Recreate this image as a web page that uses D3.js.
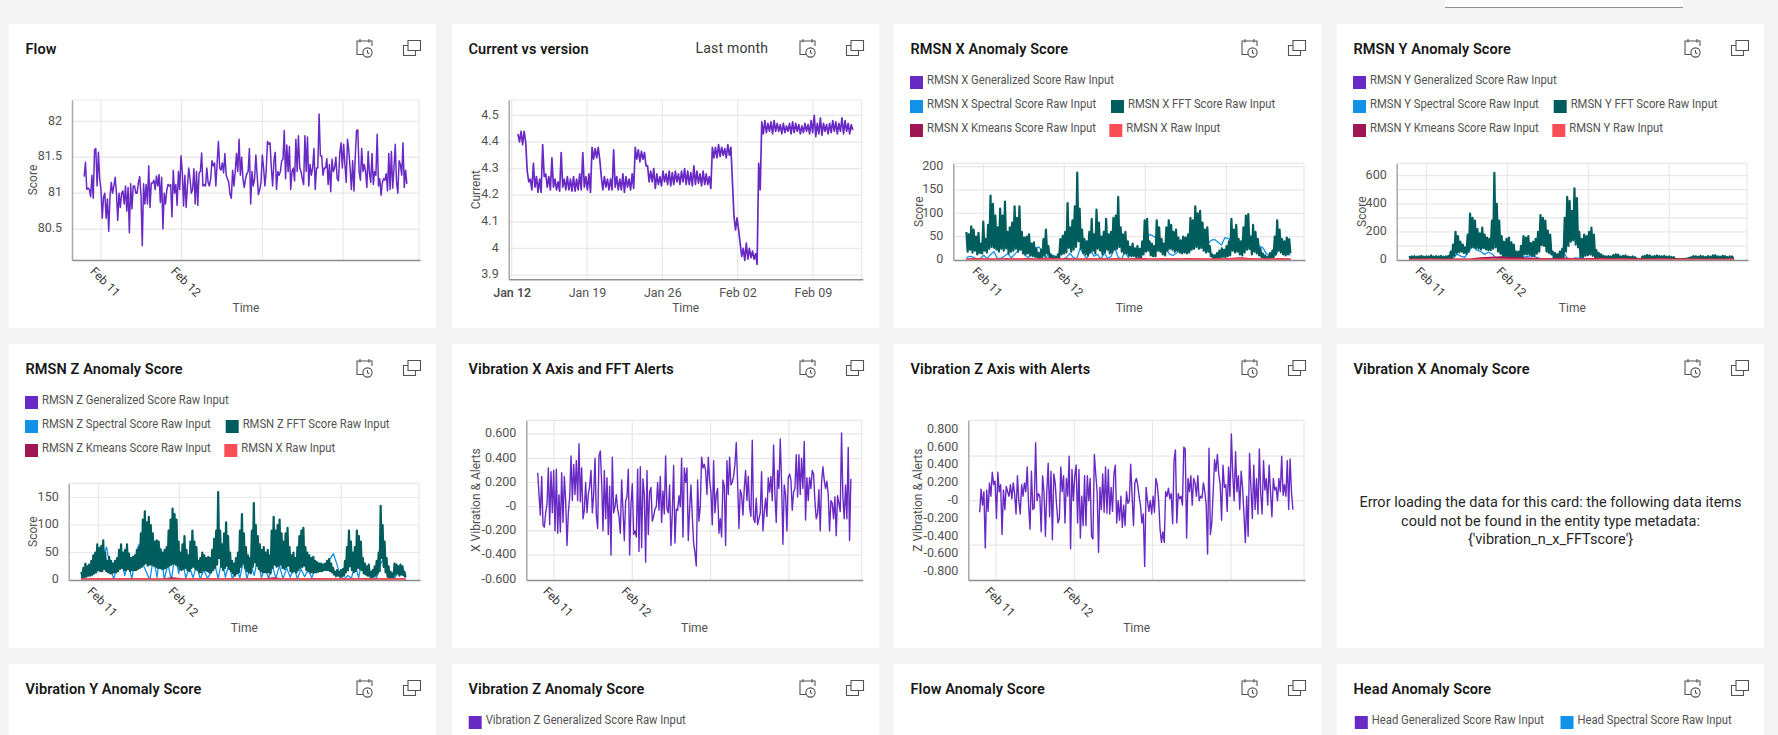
<!DOCTYPE html>
<html><head><meta charset="utf-8">
<script src="https://cdn.jsdelivr.net/npm/d3@7/dist/d3.min.js"></script>
<style>
html,body{margin:0;padding:0;background:#f4f4f4;overflow:hidden}
svg{display:block}
text{font-family:Roboto,"Open Sans",sans-serif}
.title{font-size:14.5px;font-weight:600;fill:#161616;letter-spacing:.1px}
.tick text{font-size:12.5px;fill:#525252}
.lg{font-size:12.5px;fill:#525252}
.axt{font-size:12px;fill:#525252}
.err{font-size:14.5px;fill:#262626;text-anchor:middle}
</style></head><body><div id="root"></div>
<script>
const flowValues=[81.23,81.43,81.05,81.07,81.05,80.95,81.25,80.93,81.6,81.62,81.1,81.57,81.2,81.05,80.65,80.95,81.0,80.65,80.92,80.47,80.95,81.15,81.0,81.1,81.22,81.0,80.62,81.0,80.8,81.0,81.03,80.85,81.1,80.75,81.08,80.45,81.13,80.78,81.1,81.1,81.0,81.0,81.15,81.23,80.97,80.27,81.13,80.85,81.12,80.85,81.38,80.8,81.14,81.14,81.18,81.05,81.24,81.1,81.26,80.87,81.22,80.5,81.0,80.85,81.04,81.12,81.1,81.12,80.67,81.32,81.0,81.12,80.83,81.3,81.05,81.52,81.3,80.82,81.25,80.8,81.1,81.35,81.2,81.0,81.05,81.34,80.85,81.3,80.83,81.28,81.3,81.56,81.1,81.12,81.1,81.35,81.15,81.1,81.2,81.45,81.38,81.42,81.1,81.42,81.72,81.35,81.32,81.42,81.28,81.55,81.25,81.2,81.15,80.98,80.93,81.32,81.1,81.3,81.55,81.3,81.75,81.25,81.5,81.2,81.08,81.2,81.27,81.3,81.62,80.85,81.3,81.1,81.2,81.53,81.25,80.98,81.05,81.15,81.53,81.35,81.1,81.3,81.72,81.68,81.7,81.35,81.1,81.45,81.57,81.05,81.3,81.25,81.3,81.45,81.47,81.87,81.2,81.67,81.3,81.65,81.05,81.3,81.35,81.17,81.75,81.3,81.8,81.35,81.3,81.2,81.12,81.8,81.3,81.78,81.1,81.4,81.25,81.35,81.62,81.05,81.35,81.35,82.1,81.52,81.52,81.25,81.35,81.35,81.48,81.12,81.4,81.02,81.47,81.3,81.35,81.5,81.2,81.17,81.55,81.7,81.35,81.68,81.4,81.15,81.75,81.6,81.35,81.05,81.45,81.03,81.5,81.87,81.88,81.3,81.18,81.62,81.3,81.4,81.3,81.08,81.58,81.28,81.15,81.55,81.12,81.3,81.25,81.82,81.1,81.2,80.97,81.15,81.2,81.18,81.27,81.03,81.55,81.05,81.58,81.07,81.35,81.68,81.15,81.0,81.45,81.4,81.25,81.7,81.08,81.32,81.13];
const currentHigh=[4.43,4.44,4.44,4.29,4.26,4.32,4.27,4.26,4.39,4.28,4.27,4.34,4.26,4.25,4.36,4.26,4.27,4.26,4.27,4.26,4.28,4.36,4.27,4.28,4.38,4.375,4.38,4.27,4.27,4.26,4.26,4.37,4.27,4.26,4.28,4.27,4.26,4.28,4.38,4.37,4.365,4.36,4.31,4.29,4.30,4.28,4.27,4.29,4.28,4.29,4.285,4.29,4.28,4.29,4.30,4.29,4.285,4.31,4.29,4.28,4.29,4.28,4.27,4.38,4.38,4.39,4.38,4.375,4.39,4.38,4.12,4.115,4.02,4.0,4.02,4.0,3.99,3.98,4.32,4.475,4.48,4.47,4.475,4.48,4.47,4.465,4.47,4.46,4.47,4.475,4.47,4.465,4.46,4.47,4.465,4.48,4.50,4.47,4.49,4.47,4.465,4.47,4.48,4.475,4.47,4.49,4.48,4.47,4.465];
const currentLow=[4.40,4.39,4.40,4.25,4.22,4.23,4.21,4.21,4.27,4.23,4.22,4.23,4.22,4.215,4.23,4.22,4.22,4.215,4.215,4.22,4.22,4.23,4.22,4.21,4.335,4.34,4.335,4.22,4.23,4.22,4.22,4.23,4.22,4.22,4.21,4.23,4.22,4.225,4.335,4.325,4.335,4.31,4.25,4.25,4.225,4.24,4.235,4.25,4.24,4.235,4.24,4.25,4.24,4.25,4.24,4.24,4.235,4.24,4.245,4.235,4.24,4.24,4.225,4.34,4.34,4.345,4.35,4.34,4.35,4.25,4.07,4.07,3.97,3.955,3.96,3.965,3.96,3.94,4.22,4.43,4.435,4.44,4.43,4.44,4.44,4.43,4.435,4.44,4.43,4.435,4.44,4.43,4.435,4.44,4.43,4.435,4.42,4.43,4.425,4.44,4.43,4.435,4.44,4.43,4.44,4.43,4.44,4.43,4.445];
const rmsnXFftHigh=[60,55,72,65,50,58,35,82,45,75,138,120,95,70,110,95,125,60,70,80,115,90,115,60,48,50,55,35,38,25,15,22,45,65,30,12,8,6,12,45,52,60,122,70,85,115,187,110,65,45,40,60,88,55,108,80,50,60,88,55,60,90,95,135,70,55,60,40,28,35,25,30,24,40,85,88,40,35,30,85,70,45,35,70,85,75,60,65,48,42,50,48,55,90,85,115,100,105,80,65,70,30,12,10,15,20,25,22,30,40,88,65,75,45,40,70,95,98,50,75,60,45,25,14,10,6,15,20,50,85,65,45,40,48,45];
const rmsnXFftLow=[18,22,16,20,12,15,14,20,16,24,28,26,22,18,24,20,25,14,18,20,24,18,22,14,12,14,10,8,7,5,2,6,10,14,6,2,1,0,3,12,14,16,26,18,22,28,40,24,15,12,10,16,20,14,24,20,12,16,22,14,16,22,24,28,18,14,14,10,8,9,7,8,6,12,18,20,10,8,8,20,18,12,10,20,24,22,18,20,16,14,16,14,16,22,24,28,24,26,20,16,18,8,2,1,3,5,7,6,8,10,20,16,18,12,10,16,22,24,12,18,14,10,6,2,2,0,4,6,12,20,16,12,10,12,14];
const rmsnXSpectral=[5,8,6,2,3,10,3,12,18,3,4,8,14,5,12,20,28,10,5,15,25,28,18,5,14,10,8,3,2,5,14,6,2,25,12,3,22,8,12,2,15,3,8,28,6,2,18,5,25,8,3,15,30,55,52,48,38,30,22,12,10,15,28,32,28,22,30,38,30,28,35,42,44,38,32,48,46,40,30,26,35,40,32,24,22,30,26,14,8,5,14,30,24,16,10];
const rmsnXKmeans=[1,2,1,1,2,1,2,1,3,1,2,1,1,2,1,2,1,3,1,1,2,1,2,1,1,2,2,4,2,1,1,2,1];
const rmsnXRaw=[1.5,1,1.5,1.5,1,2,1.5,1,1.5,1.5,1,1.5,2,1.5,1,1.5,1.5,1,1.5,1.5,2,1,1.5,1.5,1,1.5,1.5,2,1.5,1,1.5,1.5,1.5];
const rmsnYFftHigh=[28,25,27,24,26,30,23,26,25,32,24,27,25,29,24,26,28,60,110,200,170,130,110,90,180,330,300,280,220,190,230,180,160,150,280,620,400,280,170,130,150,160,125,110,60,60,100,170,160,170,120,130,150,200,320,300,280,210,180,60,50,40,60,80,300,450,420,350,510,440,200,150,180,170,200,230,180,70,50,40,30,25,28,25,35,40,38,25,30,32,25,22,25,20,8,5,25,30,35,32,25,28,32,28,26,30,24,26,22,20,6,5,6,8,10,15,20,28,26,24,30,26,22,28,24,32,34,26,24,30,28,22,26,25];
const rmsnYFftLow=[6,8,5,7,6,5,8,6,7,5,6,4,7,5,6,8,6,15,30,50,55,60,50,45,60,90,90,85,80,75,85,75,70,70,80,90,60,45,25,20,15,15,12,12,10,10,20,40,40,40,30,30,45,60,105,100,60,50,40,15,12,10,15,20,60,100,130,140,110,90,12,20,30,35,40,30,20,15,10,8,6,5,5,5,7,8,8,5,6,5,4,3,4,2,0,0,5,6,8,6,5,6,7,5,5,6,4,5,4,3,0,0,1,2,2,4,5,6,5,5,7,5,4,6,4,7,7,5,5,7,6,4,5,6];
const rmsnYSpectral=[4,6,3,5,4,3,5,4,6,3,5,10,42,28,18,60,100,70,62,40,55,42,10,8,14,6,4,30,35,20,25,32,20,12,6,4,10,15,25,58,8,6,15,12,8,5,3,4,14,4,5,4,3,1,8,12,6,5,4,3,3,2,4,2,1,2,3,5,8,6,7,5,4,5,6,8,5,6,7,5,4,5,4];
const rmsnYKmeans=[3,4,3,2,3,4,3,12,16,20,14,12,10,8,6,10,8,6,8,10,6,5,7,4,3,5,4,3,3,2,3,4,3];
const rmsnYRaw=[2,2,3,2,2,3,2,3,4,3,2,3,2,3,2,2,3,2,2,3,2,3,2,2,2,3,2,2,3,2,2,2,3];
const rmsnZFftHigh=[15,22,30,25,28,35,45,50,65,58,62,72,50,35,42,35,30,35,40,55,65,50,55,65,48,40,42,45,55,60,85,110,125,105,115,100,85,70,72,70,55,50,55,60,90,110,130,120,110,70,50,65,80,55,45,70,90,70,60,35,40,50,45,40,42,40,55,75,90,160,90,65,85,105,80,50,35,30,40,50,90,120,85,60,45,40,90,140,100,80,65,55,60,50,55,45,90,115,90,100,110,85,70,85,95,60,45,50,40,60,80,90,95,60,50,45,40,42,35,32,30,30,28,30,35,38,30,22,15,18,15,18,20,35,60,90,70,50,60,90,80,70,40,30,25,28,15,18,25,35,50,135,100,70,40,25,15,12,30,28,25,28,25,15];
const rmsnZFftLow=[4,5,6,8,8,10,12,14,18,16,16,20,16,14,12,12,14,14,16,20,22,18,18,20,16,18,18,18,20,22,24,28,30,26,28,28,26,24,22,22,20,20,22,24,26,28,30,28,26,20,18,20,22,18,16,22,24,20,18,14,14,18,18,16,14,14,18,22,28,40,24,18,22,26,20,16,12,8,12,14,24,30,22,16,14,12,24,32,26,20,16,14,14,14,14,12,22,28,24,26,28,22,20,24,26,16,14,16,14,18,22,24,26,18,16,14,14,14,14,15,16,16,18,18,18,16,14,10,7,8,6,7,8,14,18,25,18,14,16,22,20,18,12,10,8,8,4,6,8,12,16,40,24,14,6,0,0,4,10,12,8,10,9,5];
const rmsnZSpectral=[4,14,28,8,30,48,42,60,20,2,28,45,8,32,2,40,65,30,15,0,40,5,58,0,30,0,48,12,38,3,25,4,28,2,18,3,14,30,2,38,5,30,0,28,3,36,2,30,8,42,4,22,3,28,3,26,2,22,5,24,2,20,6,18,4,22,30,26,20,38,48,28,5,2,8,3,30,4,38,22,6,2,4,28,40,18,3,2,18,14,4];
const rmsnZKmeans=[1,1.5,1,1.5,1,2,1.5,1,1.5,3,1.5,1,2,1.5,1,1.5,1,2,1.5,3,1,1.5,1,2,1.5,1,1.5,1,2,1.5,1,1.5,1.5];
const rmsnZRaw=[1.5,1.5,2,1.5,1.5,1.5,2,1.5,1.5,1,1.5,2,1.5,1.5,2,1.5,1.5,1.5,1.5,1,2,1.5,2,1.5,1.5,2,1.5,2,1.5,1.5,2,1.5,1.5];
const zeroScore=[0.5,0.8,0.4,0.7,0.5,0.9,0.6,0.4,0.7,0.5,0.8,0.6,0.5];
const vibXValues=[.28,.10,-.07,.25,-.15,-.17,-.05,.02,.32,-.15,.29,-.05,.30,-.20,.31,-.22,.10,-.21,.28,-.13,.25,.05,-.32,-.05,.08,.42,.05,.35,.10,.38,.05,.52,.04,.32,-.10,-.03,.20,-.05,.10,.17,.30,-.05,.10,.40,-.07,-.18,.42,.46,.20,-.20,.30,-.10,.24,-.23,.17,-.40,.41,-.05,.0,.10,-.02,-.08,-.22,.22,-.03,-.28,.05,.08,.31,-.40,.02,.19,-.23,-.20,-.25,.31,-.37,.33,-.34,.23,.10,-.46,.30,-.23,.12,.16,-.12,-.08,-.02,.0,.20,-.03,.25,-.13,.13,-.06,.42,-.02,-.05,.18,-.32,-.05,.34,-.30,-.02,-.03,.09,.0,.40,-.25,.32,.20,.32,-.28,-.02,.18,-.08,-.30,-.38,-.49,.22,-.12,.0,.41,.32,.35,.30,.10,.41,.22,.12,-.15,.38,-.05,.10,.15,-.22,-.10,-.25,.22,.17,-.32,.38,.10,.41,.18,.20,.25,.35,.53,.20,-.18,.14,.10,-.07,.15,.30,.05,.25,-.01,-.08,.55,-.10,-.13,.07,-.15,-.10,-.05,.29,-.20,-.05,.07,-.08,.24,.12,.25,.05,.51,.10,-.13,.30,.15,.56,.20,-.31,.18,.10,-.20,.24,.27,.22,-.03,.12,.15,.43,.08,.43,.10,.40,.15,.54,-.11,.24,.05,.24,.15,.30,.27,.05,-.10,-.06,.14,-.20,.20,.33,.22,.15,.21,.10,-.20,.05,.03,-.10,.08,-.24,.09,.03,-.04,.61,.08,-.10,.18,-.10,.49,-.28,.23];
const vibZValues=[-.13,.13,-.05,.10,-.53,.12,-.12,.20,.05,.32,.18,.22,-.20,.32,.10,.18,-.38,.12,-.10,.16,.10,.05,.18,.02,.20,.08,-.15,.28,.0,-.15,.18,.05,.20,.10,.38,-.05,-.32,.33,-.10,-.08,.65,.0,.08,.05,-.35,.28,.10,-.40,.10,.42,-.18,.33,-.44,.30,.20,-.05,-.25,-.20,.38,.10,.28,-.25,.25,.05,.50,-.54,.35,.0,.28,.40,-.25,.35,-.42,.05,-.28,.28,-.28,.28,.0,.25,-.40,-.43,.52,.30,.10,-.58,.15,-.10,.30,-.13,.38,-.14,.35,-.15,.15,-.12,.30,.40,-.25,.0,-.22,.05,-.30,-.05,-.28,.10,-.03,.0,.41,.05,-.28,.20,.25,.18,.05,-.05,-.25,-.15,-.74,.15,.0,-.12,.0,-.15,.05,-.13,.25,.18,.0,-.32,-.47,-.35,-.47,.10,.05,.14,.02,.08,-.26,.45,.57,-.25,.08,.02,.05,-.05,.60,.58,-.42,.25,.10,.28,-.05,.25,.20,.05,.28,.0,.05,.03,.20,.10,-.05,-.60,.59,-.38,-.25,.10,.46,.33,.52,.30,.18,-.22,.40,.15,.18,-.12,.38,.05,.75,.30,.0,.55,.10,.28,-.10,.33,.15,-.15,-.47,.05,-.40,.53,.15,-.20,.40,-.10,.25,-.15,.58,.08,-.15,.45,.12,.25,-.05,.40,.10,-.18,.25,.12,.15,.0,.25,.10,.50,.06,.18,.05,.45,-.10,.47,.10,-.10];
const tickDatesFeb=[new Date(2021,1,11),new Date(2021,1,12),new Date(2021,1,13),new Date(2021,1,14)];
const tickLabelsFeb=["Feb 11","Feb 12","",""];
const tickDatesJan=[new Date(2021,0,12),new Date(2021,0,19),new Date(2021,0,26),new Date(2021,1,2),new Date(2021,1,9)];
const tickLabelsJan=["Jan 12","Jan 19","Jan 26","Feb 02","Feb 09"];
const febSpan=[new Date(2021,1,10,19),new Date(2021,1,14,19)];
const janSpan=[new Date(2021,0,12,14),new Date(2021,1,12,17)];

const PURPLE="#6929c4",BLUE="#1192e8",TEAL="#005d5d",CRIM="#9f1853",RED="#fa4d56";
const W=1778,H=735,CW=427;
const svg=d3.select("#root").append("svg").attr("width",W).attr("height",H);
svg.append("rect").attr("x",1445).attr("y",0).attr("width",238).attr("height",7).attr("fill","#fff");
svg.append("line").attr("x1",1445).attr("x2",1683).attr("y1",7.5).attr("y2",7.5).attr("stroke","#8d8d8d").attr("stroke-width",1.2);

function squeeze(sel,k){sel.each(function(){const l=this.getComputedTextLength();this.setAttribute("textLength",l*k);this.setAttribute("lengthAdjust","spacingAndGlyphs");});}
function card(x,y,h,title){
  const g=svg.append("g");
  g.append("rect").attr("x",x).attr("y",y).attr("width",CW).attr("height",h).attr("fill","#fff");
  g.append("text").attr("class","title").attr("x",x+16.5).attr("y",y+30).text(title);
  const ic=g.append("g").attr("transform",`translate(${x+347.5},${y+15})`).attr("fill","none").attr("stroke","#525252").attr("stroke-width",1.1);
  ic.append("path").attr("d","M6.5 15.5H0.5V2H15.5V7M3.5 0V3.5M12.5 0V3.5");
  ic.append("circle").attr("cx",11).attr("cy",13.5).attr("r",4.6);
  ic.append("path").attr("d","M11 11V13.8L12.8 14.8");
  const co=g.append("g").attr("transform",`translate(${x+394},${y+16})`).attr("fill","none").attr("stroke","#525252").attr("stroke-width",1.1);
  co.append("path").attr("d","M5 0.5H17.5V10.5H5Z");
  co.append("path").attr("d","M5 5.5H0.5V15.5H12.5V10.5");
  return g;
}
function legend(g,x,y,items){
  items.forEach(it=>{
    g.append("rect").attr("x",x+it[1]).attr("y",y+it[2]).attr("width",13).attr("height",13).attr("fill",it[3]);
    g.append("text").attr("class","lg").attr("x",x+it[1]+17).attr("y",y+it[2]+8).text(it[0]).call(squeeze,.9);
  });
}
function chart(g,c){
  const xs=d3.scaleTime().domain([c.ticks[0],c.ticks[1]]).range([c.t0,c.t1]);
  const x=d3.scaleTime().domain([xs.invert(c.l),xs.invert(c.r)]).range([c.l,c.r]);
  const y=d3.scaleLinear().domain(c.yd).range([c.b,c.t]);
  const grid=g.append("g").attr("stroke","#e8e8e8").attr("stroke-width",1.2);
  c.grid.forEach(v=>grid.append("line").attr("x1",c.l).attr("x2",c.r-1).attr("y1",y(v)).attr("y2",y(v)));
  c.ticks.forEach(v=>grid.append("line").attr("x1",x(v)).attr("x2",x(v)).attr("y1",c.t).attr("y2",c.b));
  grid.append("line").attr("x1",c.l).attr("x2",c.r-1).attr("y1",c.t).attr("y2",c.t);
  grid.append("line").attr("x1",c.r-1).attr("x2",c.r-1).attr("y1",c.t).attr("y2",c.b);
  c.series.forEach(s=>{
    const v=s.lo?d3.merge(d3.zip(s.hi,s.lo)):s.v;
    const t=d3.scaleLinear().domain([0,v.length-1]).range(c.span.map(Number));
    const line=d3.line().x((d,i)=>x(new Date(t(i)))).y(d=>y(d));
    g.append("path").datum(v).attr("d",line).attr("fill","none").attr("stroke",s.color).attr("stroke-width",s.w||1.5).attr("stroke-linejoin","round");
  });
  const ay=g.append("g").attr("transform",`translate(${c.l},0)`)
    .call(d3.axisLeft(y).tickValues(c.yt).tickSize(0).tickPadding(c.pad||10).tickFormat(c.fmt||(d=>d)));
  ay.select(".domain").attr("stroke","#a8a8a8").attr("stroke-width",1.5);
  ay.selectAll(".tick text").attr("dy",".22em");
  const ax=g.append("g").attr("transform",`translate(0,${c.b})`)
    .call(d3.axisBottom(x).tickValues(c.ticks).tickSize(0).tickFormat((d,i)=>c.labels[i]));
  ax.select(".domain").attr("stroke","#8d8d8d").attr("stroke-width",1.5);
  if(c.rot){
    ax.selectAll(".tick text").attr("text-anchor","start").attr("dy",0).style("fill","#393939").style("font-size","12px")
      .attr("transform","translate(-12,12) rotate(45)").attr("y",0).attr("x",0);
  }else{
    ax.selectAll(".tick text").attr("y",9).attr("dy",".71em").attr("font-weight",(d,i)=>i==0?600:400);
  }
  g.append("text").attr("class","axt").attr("text-anchor","middle").attr("x",(c.l+c.r)/2).attr("y",c.cardB-16).text("Time");
  g.append("text").attr("class","axt").attr("text-anchor","middle")
    .attr("transform",`translate(${c.yLabelX},${(c.t+c.b)/2+(c.yShift||0)}) rotate(-90)`).text(c.yLabel);
}
const row1=24,row2=344,row3=664,cols=[9,452,894,1337],h12=304;
const legendRows=(p,col2)=>[
 [p+" Generalized Score Raw Input",16,52,PURPLE],
 [p+" Spectral Score Raw Input",16,76,BLUE],
 [p+" FFT Score Raw Input",col2,76,TEAL],
 [p+" Kmeans Score Raw Input",16,100,CRIM]];

let g=card(cols[0],row1,h12,"Flow");
chart(g,{ticks:tickDatesFeb,labels:tickLabelsFeb,t0:101,t1:181.67,l:72,r:420,t:100,b:260,cardB:row1+h12,yd:[80.07,82.296],yt:[80.5,81,81.5,82],grid:[80.5,81,81.5,82],rot:true,span:febSpan,series:[{v:flowValues,color:PURPLE,w:1.5}],yLabel:"Score",yLabelX:37});

g=card(cols[1],row1,h12,"Current vs version");
g.append("text").attr("x",695.5).attr("y",53).attr("font-size",14).attr("fill","#393939").attr("letter-spacing",".2px").text("Last month");
chart(g,{ticks:tickDatesJan,labels:tickLabelsJan,t0:511.7,t1:587,l:508.7,r:862.7,t:100,b:279.3,cardB:row1+h12,yd:[3.884,4.5575],yt:[3.9,4,4.1,4.2,4.3,4.4,4.5],grid:[3.9,4,4.1,4.2,4.3,4.4,4.5],span:janSpan,series:[{hi:currentHigh,lo:currentLow,color:PURPLE,w:1.7}],yLabel:"Current",yLabelX:480});

g=card(cols[2],row1,h12,"RMSN X Anomaly Score");
legend(g,cols[2],row1,[...legendRows("RMSN X",217),["RMSN X Raw Input",215.3,100,RED]]);
chart(g,{ticks:tickDatesFeb,labels:tickLabelsFeb,t0:983.3,t1:1064.3,l:953.3,r:1305,t:163.3,b:260,cardB:row1+h12,yd:[0,207],yt:[0,50,100,150,200],grid:[50,100,150,200],rot:true,span:febSpan,series:[{v:zeroScore,color:PURPLE},{v:rmsnXSpectral,color:BLUE,w:1.3},{hi:rmsnXFftHigh,lo:rmsnXFftLow,color:TEAL,w:2.2},{v:rmsnXKmeans,color:CRIM,w:2},{v:rmsnXRaw,color:RED,w:2}],yLabel:"Score",yLabelX:923});

g=card(cols[3],row1,h12,"RMSN Y Anomaly Score");
legend(g,cols[3],row1,[...legendRows("RMSN Y",216.7),["RMSN Y Raw Input",215.3,100,RED]]);
chart(g,{ticks:tickDatesFeb,labels:tickLabelsFeb,t0:1426.3,t1:1507.3,l:1396.7,r:1748,t:163.3,b:260,cardB:row1+h12,yd:[0,688],yt:[0,200,400,600],grid:[100,200,300,400,500,600],rot:true,span:febSpan,series:[{v:zeroScore,color:PURPLE},{v:rmsnYSpectral,color:BLUE,w:1.3},{hi:rmsnYFftHigh,lo:rmsnYFftLow,color:TEAL,w:2.2},{v:rmsnYKmeans,color:CRIM,w:2},{v:rmsnYRaw,color:RED,w:2}],yLabel:"Score",yLabelX:1366});

g=card(cols[0],row2,h12,"RMSN Z Anomaly Score");
legend(g,cols[0],row2,[...legendRows("RMSN Z",216.7),["RMSN X Raw Input",215.3,100,RED]]);
chart(g,{ticks:tickDatesFeb,labels:tickLabelsFeb,t0:98.3,t1:179.3,l:68.7,r:420,t:483.3,b:580,cardB:row2+h12,yd:[0,175.8],yt:[0,50,100,150],grid:[50,100,150],rot:true,span:febSpan,series:[{v:zeroScore,color:PURPLE},{v:rmsnZSpectral,color:BLUE,w:1.3},{hi:rmsnZFftHigh,lo:rmsnZFftLow,color:TEAL,w:2.2},{v:rmsnZKmeans,color:CRIM,w:2},{v:rmsnZRaw,color:RED,w:2}],yLabel:"Score",yLabelX:37});

const vfmt=d=>d===0?"-0":d.toFixed(3);
g=card(cols[1],row2,h12,"Vibration X Axis and FFT Alerts");
chart(g,{ticks:tickDatesFeb,labels:tickLabelsFeb,t0:554,t1:632.3,l:526.3,r:862.7,t:420.3,b:580,cardB:row2+h12,yd:[-.606,.714],yt:[-.6,-.4,-.2,0,.2,.4,.6],grid:[-.4,-.2,0,.2,.4,.6],fmt:vfmt,rot:true,span:febSpan,series:[{v:vibXValues,color:PURPLE,w:1.4}],yLabel:"X Vibration & Alerts",yLabelX:480});

g=card(cols[2],row2,h12,"Vibration Z Axis with Alerts");
chart(g,{ticks:tickDatesFeb,labels:tickLabelsFeb,t0:996,t1:1074.3,l:968.3,r:1305,t:420.3,b:580,cardB:row2+h12,yd:[-.891,.903],yt:[-.8,-.6,-.4,-.2,0,.2,.4,.6,.8],grid:[-.5,0,.5],fmt:vfmt,rot:true,span:febSpan,series:[{v:vibZValues,color:PURPLE,w:1.4}],yLabel:"Z Vibration & Alerts",yLabelX:922});

g=card(cols[3],row2,h12,"Vibration X Anomaly Score");
[["Error loading the data for this card: the following data items",506.5],["could not be found in the entity type metadata:",525.5],["{'vibration_n_x_FFTscore'}",544]].forEach(l=>
  g.append("text").attr("class","err").attr("x",cols[3]+213.5).attr("y",l[1]).text(l[0]));

card(cols[0],row3,80,"Vibration Y Anomaly Score");
g=card(cols[1],row3,80,"Vibration Z Anomaly Score");
legend(g,cols[1],row3,[["Vibration Z Generalized Score Raw Input",16.7,52,PURPLE]]);
card(cols[2],row3,80,"Flow Anomaly Score");
g=card(cols[3],row3,80,"Head Anomaly Score");
legend(g,cols[3],row3,[["Head Generalized Score Raw Input",17.8,52,PURPLE],["Head Spectral Score Raw Input",223.5,52,BLUE]]);
</script></body></html>
